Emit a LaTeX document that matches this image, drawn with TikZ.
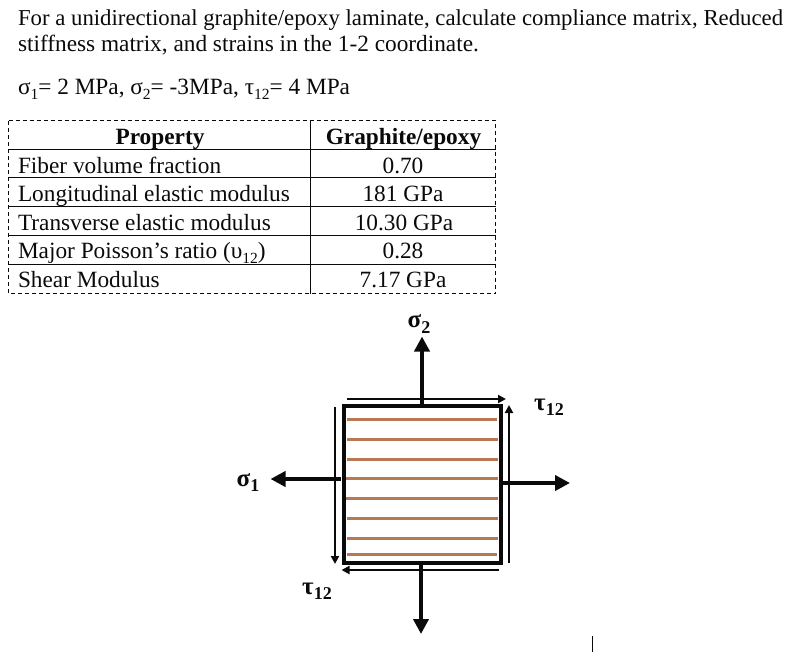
\documentclass[tikz,border=0pt]{standalone}
\usepackage{fontspec}
\setmainfont{Liberation Serif}
\usetikzlibrary{arrows.meta}
\definecolor{fiber}{RGB}{184,120,82}
\definecolor{ink}{RGB}{10,10,10}
\tikzset{
  txt/.style={anchor=base west,inner sep=0pt,outer sep=0pt,text=ink,font=\fontsize{23.3}{26}\selectfont},
  cell/.style={anchor=base,inner sep=0pt,outer sep=0pt,text=ink,font=\fontsize{23.3}{26}\selectfont},
  headcell/.style={cell,font=\fontsize{23.3}{26}\selectfont\bfseries},
  rule/.style={draw=ink,line width=1pt},
  dashrule/.style={draw=ink,line width=1pt,dash pattern=on 4pt off 3pt},
  plate/.style={draw=ink,line width=3.6pt,fill=white,minimum width=157pt,minimum height=157pt,inner sep=0pt,outer sep=0pt},
  fiberline/.style={draw=fiber,line width=3pt},
  bigarrow/.style={draw=ink,line width=4pt,-{Triangle[length=15pt,width=15pt]}},
  thinarrow/.style={draw=ink,line width=2pt,-{Triangle[length=8pt,width=8pt]}},
  sym/.style={anchor=base,inner sep=0pt,outer sep=0pt,text=ink,font=\fontsize{25}{28}\selectfont\bfseries},
}
\newcommand{\lowsub}[1]{\raisebox{-0.2em}{\fontsize{15.5}{17}\selectfont #1}}
\newcommand{\symsub}[1]{\raisebox{-0.22em}{\fontsize{18}{20}\selectfont #1}}
\begin{document}
\begin{tikzpicture}[x=1pt,y=-1pt]
\useasboundingbox (0,0) rectangle (803,654);
% problem text
\node[txt,font=\fontsize{22.77}{26}\selectfont] (l1) at (18,25) {For a unidirectional graphite/epoxy laminate, calculate compliance matrix, Reduced};
\node[txt] (l2) at (18,51) {stiffness matrix, and strains in the 1-2 coordinate.};
\node[txt] (l3) at (18,94.5) {σ\lowsub{1}= 2 MPa, σ\lowsub{2}= -3MPa, τ\lowsub{12}= 4 MPa};
% table frame
\draw[dashrule] (8.5,120.5) -- (495.5,120.5) -- (495.5,293.5) -- (8.5,293.5) -- cycle;
\foreach \yy in {149.5,177.5,206.5,235.5,264.5}{\draw[rule] (8.5,\yy) -- (495.5,\yy);}
\draw[rule] (310.5,120.5) -- (310.5,293.5);
\node[headcell] (h1) at (160,144) {Property};
\node[headcell] (h2) at (403.5,144) {Graphite/epoxy};
\node[txt] (r1) at (18,173) {Fiber volume fraction};
\node[txt] (r2) at (18,201) {Longitudinal elastic modulus};
\node[txt] (r3) at (18,230) {Transverse elastic modulus};
\node[txt] (r4) at (18,258.5) {Major Poisson’s ratio (υ\lowsub{12})};
\node[txt] (r5) at (18,287.5) {Shear Modulus};
\node[cell] (v1) at (403,173) {0.70};
\node[cell] (v2) at (403,201) {181 GPa};
\node[cell] (v3) at (404,230) {10.30 GPa};
\node[cell] (v4) at (403,258.5) {0.28};
\node[cell] (v5) at (403,287.5) {7.17 GPa};
% plate
\node[plate] (p) at (422.5,484.5) {};
\foreach \yy/\xa/\xb in {419.5/347/497,439.5/347/498,459.5/347/498,478.5/346/498,498.5/346/498,518.5/347/498,538.5/347/498,554.5/347/497}{
  \draw[fiberline] (\xa,\yy) -- (\xb,\yy);}
% free ends
\coordinate (nA) at (422,405);
\coordinate (nB) at (422,336.5);
\coordinate (sA) at (421,564);
\coordinate (sB) at (421,634);
\coordinate (wA) at (341,479);
\coordinate (wB) at (270.5,479);
\coordinate (eA) at (500,483);
\coordinate (eB) at (570,483);
\draw[bigarrow] (nA) -- (nB);
\draw[bigarrow] (sA) -- (sB);
\draw[bigarrow] (wA) -- (wB);
\draw[bigarrow] (eA) -- (eB);
\coordinate (t1) at (347,399);
\coordinate (t2) at (506,399);
\coordinate (r1a) at (509,563);
\coordinate (r1b) at (509,405);
\coordinate (l1a) at (335,406.7);
\coordinate (l1b) at (335,564);
\coordinate (b1) at (499,570);
\coordinate (b2) at (341.5,570);
\draw[thinarrow] (t1) -- (t2);
\draw[thinarrow] (r1a) -- (r1b);
\draw[thinarrow] (l1a) -- (l1b);
\draw[thinarrow] (b1) -- (b2);
% labels
\node[sym] (s2) at (419,327.5) {σ\symsub{2}};
\node[sym] (s1) at (248,486) {σ\symsub{1}};
\node[sym] (t12a) at (549,410) {τ\symsub{12}};
\node[sym] (t12b) at (317,594) {τ\symsub{12}};
% cursor mark
\coordinate (c1) at (592.5,636);
\coordinate (c2) at (592.5,652);
\draw[draw=ink,line width=1pt] (c1) -- (c2);
\end{tikzpicture}
\end{document}
